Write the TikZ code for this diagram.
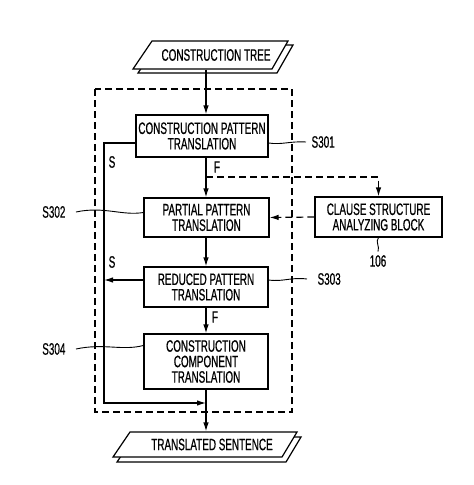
\documentclass[tikz,border=0pt]{standalone}
\usepackage{fontspec}
\setmainfont{Liberation Sans}[FakeStretch=0.6,FakeBold=0.6]
\usetikzlibrary{arrows.meta}
\begin{document}
\begin{tikzpicture}[x=1pt,y=-1pt,line width=1.2pt,
  box/.style={draw,rectangle,inner sep=0pt,align=center,font=\fontsize{16.5}{15.5}\selectfont},
  txt/.style={inner sep=0pt,align=center,font=\fontsize{16.5}{15.5}\selectfont},
  lbl/.style={inner sep=0pt,font=\fontsize{16.5}{16}\selectfont},
  arr/.style={-{Latex[length=9pt,width=5.5pt]}},
  dsh/.style={dash pattern=on 7pt off 4pt},
  lead/.style={line width=0.9pt},
  sheet/.style={draw,fill=white,line join=miter}]
\useasboundingbox (0,0) rectangle (474,485);
\coordinate (ax) at (206,0);
\coordinate (sl) at (104,0);
% input sheet
\draw[sheet] (157,45) -- (293,45) -- (277,73) -- (138,73) -- cycle;
\draw[sheet] (152,41) -- (288,41) -- (272,69) -- (133,69) -- cycle;
\node[txt,minimum width=130,minimum height=28] (tree) at (216,55) {CONSTRUCTION TREE};
% output sheet
\draw[sheet] (134,437) -- (301,437) -- (286,462) -- (117,462) -- cycle;
\draw[sheet] (130,432) -- (297,432) -- (282,457) -- (113,457) -- cycle;
\node[txt,minimum width=150,minimum height=25] (trans) at (212,444.5) {TRANSLATED SENTENCE};
% dashed frame
\draw[dsh] (95,89) rectangle (292,412);
% boxes
\node[box,minimum width=132,minimum height=42] (s301) at (202,136) {CONSTRUCTION PATTERN\\TRANSLATION};
\node[box,minimum width=125,minimum height=39] (s302) at (206.5,217.5) {PARTIAL PATTERN\\TRANSLATION};
\node[box,minimum width=124,minimum height=40] (s303) at (206,287) {REDUCED PATTERN\\TRANSLATION};
\node[box,minimum width=124,minimum height=55] (s304) at (206,361.5) {CONSTRUCTION\\COMPONENT\\TRANSLATION};
\node[box,minimum width=127,minimum height=40] (clause) at (378.5,217) {CLAUSE STRUCTURE\\ANALYZING BLOCK};
% main flow
\draw[arr] (tree.south -| ax) -- (s301.north -| ax);
\draw[arr] (s301.south -| ax) -- (s302.north -| ax);
\draw[arr] (s302.south -| ax) -- (s303.north -| ax);
\draw[arr] (s303.south -| ax) -- (s304.north -| ax);
\draw[arr] (s304.south -| ax) -- (trans.north -| ax);
% S loop
\coordinate (sbot) at (104,403);
\draw[arr] ([yshift=-7pt]s301.west) -| (sbot) -- (sbot -| ax);
\draw[arr] ([yshift=7pt]s303.west) -- ([yshift=7pt]s303.west -| sl);
% dashed branch
\coordinate (fj) at (206,177);
\draw[dsh,arr] (fj) -| (clause.north);
\draw[dsh,arr] (clause.west) -- (s302.east);
% flow labels
\node[lbl] (S1) at (112,162) {S};
\node[lbl] (F1) at (217,167) {F};
\node[lbl] (S2) at (112,262) {S};
\node[lbl] (F2) at (215,317) {F};
% reference labels
\node[lbl,anchor=west] (l301) at (311,142) {S301};
\node[lbl,anchor=east] (l302) at (66,212) {S302};
\node[lbl,anchor=west] (l303) at (317,279) {S303};
\node[lbl,anchor=east] (l304) at (66,349) {S304};
\node[lbl] (l106) at (378,261) {106};
\draw[lead] ([yshift=-7pt]s301.east) .. controls (282,145) and (290,141) .. ([xshift=-5pt]l301.west);
\draw[lead] ([xshift=10pt]l302.east) .. controls (104,206) and (122,216) .. ([yshift=5pt]s302.west);
\draw[lead] ([yshift=7pt]s303.east) .. controls (284,282) and (290,277) .. ([xshift=-10pt]l303.west);
\draw[lead] ([xshift=10pt]l304.east) .. controls (104,343) and (122,351) .. ([yshift=16pt]s304.west);
\draw[lead] (clause.south) .. controls (375,242) and (380,246) .. ([yshift=3pt]l106.north);
\end{tikzpicture}
\end{document}
